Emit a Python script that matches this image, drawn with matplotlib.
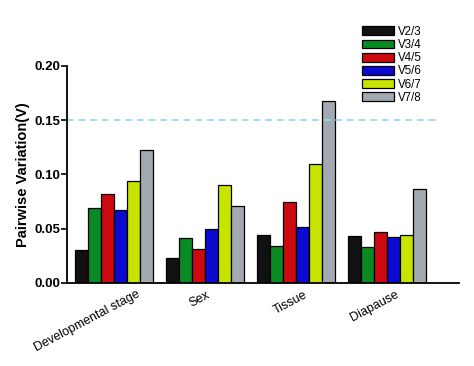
import numpy as np
import matplotlib
matplotlib.use("Agg")
import matplotlib.pyplot as plt

plt.rcParams['font.family'] = ['Liberation Sans', 'DejaVu Sans']

# data
groups = ["Developmental stage", "Sex", "Tissue", "Diapause"]
series = ["V2/3", "V3/4", "V4/5", "V5/6", "V6/7", "V7/8"]
v23 = [0.030, 0.023, 0.044, 0.043]
v34 = [0.069, 0.041, 0.034, 0.033]
v45 = [0.082, 0.031, 0.075, 0.047]
v56 = [0.067, 0.050, 0.052, 0.042]
v67 = [0.094, 0.090, 0.110, 0.044]
v78 = [0.123, 0.071, 0.168, 0.087]
cutoff = 0.15

colors = ["#111111", "#0a8a22", "#cc0a0f", "#0a0ad0", "#c6e400", "#a3a9b0"]

fig = plt.figure(figsize=(4.74, 3.66), dpi=100)
ax = fig.add_axes([0.1414, 0.2268, 0.8266, 0.593])

slots = 7  # 6 bars + empty slot per group
base = np.arange(len(groups)) * slots
handles = []
for j, (vals, c, name) in enumerate(zip([v23, v34, v45, v56, v67, v78], colors, series)):
    h = ax.bar(base + j, vals, width=1.0, color=c, edgecolor="black",
               linewidth=0.9, label=name)
    handles.append(h)

ax.set_xlim(-1.1, 29.0)
ax.set_ylim(0, 0.20)
ax.hlines(cutoff, -1.1, 27.3, colors="#8fd8ea", linestyles=(0, (4, 3)), linewidth=1.2)

ax.set_yticks([0, 0.05, 0.10, 0.15, 0.20])
ax.set_yticklabels(["%.2f" % t for t in [0, 0.05, 0.10, 0.15, 0.20]],
                   fontsize=9.5, fontweight="bold")
ax.set_ylabel("Pairwise Variation(V)", fontsize=10.5, fontweight="bold", labelpad=3)

# label anchors (GraphPad places the long label a bit further right)
label_off = [4.2, 2.6, 3.1, 3.1]
ax.set_xticks(base + np.array(label_off))
ax.set_xticklabels(groups, rotation=28, ha="right", rotation_mode="anchor", fontsize=9)
ax.tick_params(axis="x", length=0, pad=4)
ax.tick_params(axis="y", length=4, width=1.2, direction="out", pad=1)

for s in ["top", "right"]:
    ax.spines[s].set_visible(False)
for s in ["left", "bottom"]:
    ax.spines[s].set_linewidth(1.3)

fig.legend(handles=handles, labels=series, loc="upper left",
           bbox_to_anchor=(0.752, 0.945), frameon=False, fontsize=8.3,
           handlelength=2.8, handleheight=0.8, labelspacing=0.1,
           handletextpad=0.3, borderpad=0)

fig.savefig("out.png", dpi=100)
